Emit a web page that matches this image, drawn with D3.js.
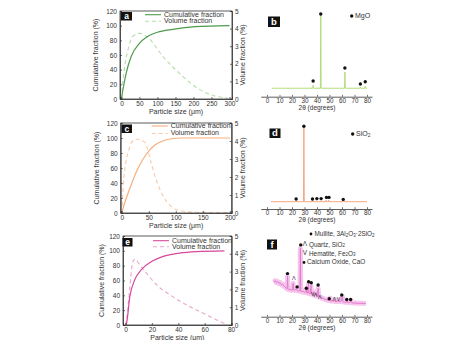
<!DOCTYPE html>
<html><head><meta charset="utf-8">
<script src="https://cdn.jsdelivr.net/npm/d3@7"></script>
<style>body{margin:0;background:#fff} text{font-family:"Liberation Sans",Arial,sans-serif}</style>
</head><body><script>
// ---------- DATA ----------
// Panel a (MgO particle size)
const sizeCumA = [0, 5, 13, 27, 50, 71, 100, 143, 205, 300];
const cumA     = [0, 15, 35, 58, 76, 85, 91, 95, 98.6, 100];
const sizeVolA = [0, 3, 9, 18, 31, 50, 71, 116, 161, 205, 250, 295];
const volA     = [0, 0.8, 1.84, 2.78, 3.54, 3.73, 3.54, 2.4, 1.46, 0.7, 0.23, 0.05];
// Panel c (SiO2 particle size)
const sizeCumC = [0, 4, 16, 31, 46, 62, 77, 92, 110, 200];
const cumC     = [0, 10, 35, 61, 79, 91, 96.4, 99, 100, 100];
const sizeVolC = [0, 4, 13, 22, 31, 44, 53, 62, 71, 83, 101, 130, 200];
const volC     = [0, 2.0, 3.5, 4.05, 4.1, 3.87, 2.94, 2.0, 1.28, 0.63, 0.2, 0.05, 0.02];
// Panel e (fly ash particle size)
const sizeCumE = [0, 0.8, 3.3, 7, 12, 20, 28.6, 41, 54, 75];
const cumE     = [0, 2.7, 38.5, 61, 74.6, 85.8, 92.6, 97, 99, 100];
const sizeVolE = [0, 0.8, 3.3, 5.3, 7, 10.9, 16, 23.6, 33.8, 46.5, 59, 72, 75];
const volE     = [0, 0.3, 2.15, 3.47, 3.7, 3.37, 2.9, 2.25, 1.69, 1.12, 0.66, 0.19, 0.1];
// Axis ticks
const cumTicks = [0, 20, 40, 60, 80, 100, 120];
const volTicks = [0, 1, 2, 3, 4, 5];
const xTicksA = [0, 50, 100, 150, 200, 250, 300];
const xTicksC = [0, 50, 100, 150, 200];
const xTicksE = [0, 20, 40, 60, 80];
const thetaTicks = [0, 10, 20, 30, 40, 50, 60, 70, 80];
// Panel b (MgO XRD)
const angB = [4, 36.6, 36.9, 37.2, 42.7, 43.0, 43.3, 62.0, 62.3, 62.6, 74.4, 74.7, 75.0, 78.3, 78.6, 78.9, 80];
const intB = [1, 1, 5, 1, 1, 96, 1, 1, 22, 1, 1, 2.5, 1, 1, 3.5, 1, 1];
const markAngB = [36.9, 43.0, 62.3, 74.7, 78.6];
const markIntB = [10.4, 97.4, 27.3, 6.5, 9.5];
// Panel d (SiO2 XRD)
const angD = [3, 23.0, 23.3, 23.6, 29.2, 29.5, 29.8, 36.1, 36.4, 36.7, 39.6, 39.9, 40.2, 43.0, 43.3, 43.6, 47.0, 47.3, 47.6, 49.1, 49.4, 49.7, 60.7, 61.0, 61.3, 80];
const intD = [1.6, 1.6, 3, 1.6, 1.6, 97.5, 1.6, 1.6, 3, 1.6, 1.6, 3, 1.6, 1.6, 3, 1.6, 1.6, 3.5, 1.6, 1.6, 3.5, 1.6, 1.6, 3, 1.6, 1.6];
const markAngD = [23.3, 29.5, 36.4, 39.9, 43.3, 47.6, 49.6, 61.0];
const markIntD = [5, 96, 5, 5.5, 5.5, 7, 7, 4.5];
// Panel f (fly ash XRD)
const angF = [5.5, 6.5, 7.5, 8.5, 9.5, 10.5, 11.5, 12.5, 13.5, 14.5, 15.5, 16.1, 16.4, 16.7, 17.5, 18.5, 19.5, 20.5, 20.9, 21.2, 22, 23, 24, 25, 26, 26.4, 26.7, 27, 28, 29, 30, 31, 31.3, 31.6, 32.5, 33.2, 33.5, 34.5, 35.2, 35.5, 36.5, 37, 37.5, 38.5, 39.3, 39.6, 40.5, 40.9, 41.2, 42.5, 43.5, 44.5, 45.5, 46.5, 47.5, 48.5, 49.5, 50.3, 50.6, 52, 53.5, 54, 54.4, 56, 57.3, 57.6, 59, 60.4, 60.7, 62, 63.5, 64.2, 64.5, 66, 67.2, 67.5, 69, 71, 73, 75, 77, 79];
const intF = [40, 42, 39, 41, 38, 39, 36, 37, 34, 33, 31, 30, 48, 31, 29, 30, 28, 29, 38, 29, 28, 30, 28, 27, 28, 27, 88, 27, 26, 27, 25, 26, 30, 25, 24, 37, 24, 23, 35, 23, 22, 26, 21, 21, 25, 20, 20, 31, 19, 19, 17, 17, 16, 15, 15, 14, 14, 17, 13, 13, 13, 15, 12, 12, 14, 12, 12, 19, 12, 11, 11, 13, 11, 10.5, 13, 10.5, 10, 10, 9.5, 9.5, 9.5, 9];
const mulliteAngF = [16.4, 24.1, 27.0, 31.5, 33.3, 35.4, 40.9, 49.8, 59.8, 63.8, 66.9];
const mulliteIntF = [52, 33, 93, 31, 40.4, 39, 35.7, 16, 21.4, 15, 15];
const quartzAngF = [21.4, 38.8, 42.3, 53.8];
const quartzIntF = [45, 20, 18, 15.3];
const hematiteAngF = [36.7, 57.2];
const hematiteIntF = [21.4, 15.3];

// ---------- DRAWING ----------
const svg = d3.select("body").append("svg").attr("width", 474).attr("height", 340);
const TXT = "#333";

function styleAxis(g, fs) {
  g.select(".domain").attr("stroke", TXT).attr("stroke-width", 0.8);
  g.selectAll(".tick line").attr("stroke", TXT).attr("stroke-width", 0.7);
  g.selectAll(".tick text").attr("fill", TXT).style("font-size", fs + "px").style("font-family", "Liberation Sans, Arial, sans-serif");
}

function labelBox(x, y, w, h, letter, fs) {
  svg.append("rect").attr("x", x).attr("y", y).attr("width", w).attr("height", h).attr("fill", "#111");
  svg.append("text").attr("x", x + w / 2).attr("y", y + h / 2 + 0.5).attr("text-anchor", "middle")
    .attr("dominant-baseline", "middle").attr("fill", "#fff").style("font-weight", "bold").style("font-size", fs + "px").text(letter);
}

function linePanel(p) {
  const x = d3.scaleLinear().domain(p.xDomain).range([p.x0, p.x1]);
  const yL = d3.scaleLinear().domain([0, 120]).range([p.y1, p.y0]);
  const yR = d3.scaleLinear().domain([0, 5]).range([p.y1, p.y0]);
  const g = svg.append("g");
  const line = (xs, ys, ysc) => d3.line().x((d, i) => x(xs[i])).y((d, i) => ysc(ys[i])).curve(d3.curveMonotoneX)(xs);
  g.append("path").attr("d", line(p.volX, p.vol, yR)).attr("fill", "none").attr("stroke", p.cDash).attr("stroke-width", 1.1).attr("stroke-dasharray", "4,3");
  g.append("path").attr("d", line(p.cumX, p.cum, yL)).attr("fill", "none").attr("stroke", p.cSolid).attr("stroke-width", 1.2);
  g.append("rect").attr("x", p.x0).attr("y", p.y0).attr("width", p.x1 - p.x0).attr("height", p.y1 - p.y0)
    .attr("fill", "none").attr("stroke", TXT).attr("stroke-width", 0.8);
  styleAxis(g.append("g").attr("transform", `translate(0,${p.y1})`)
    .call(d3.axisBottom(x).tickValues(p.xTicks).tickSize(-2).tickPadding(2.5).tickFormat(d3.format("d"))), 6.5);
  styleAxis(g.append("g").attr("transform", `translate(${p.x0},0)`)
    .call(d3.axisLeft(yL).tickValues(cumTicks).tickSize(-2).tickPadding(3).tickFormat(d3.format("d"))), 6.5);
  styleAxis(g.append("g").attr("transform", `translate(${p.x1},0)`)
    .call(d3.axisRight(yR).tickValues(volTicks).tickSize(-2).tickPadding(3).tickFormat(d3.format("d"))), 6.5);
  const cy = (p.y0 + p.y1) / 2;
  g.append("text").attr("transform", `translate(${p.x0 - p.leftOff},${cy}) rotate(-90)`).attr("text-anchor", "middle")
    .attr("dominant-baseline", "middle").attr("fill", TXT).style("font-size", "7px").text("Cumulative fraction (%)");
  g.append("text").attr("transform", `translate(${p.x1 + 11.5},${cy}) rotate(-90)`).attr("text-anchor", "middle")
    .attr("dominant-baseline", "middle").attr("fill", TXT).style("font-size", "7px").text("Volume fraction (%)");
  g.append("text").attr("x", (p.x0 + p.x1) / 2).attr("y", p.y1 + 13.5).attr("text-anchor", "middle")
    .attr("dominant-baseline", "middle").attr("fill", TXT).style("font-size", "7px").text("Particle size (μm)");
  // legend
  g.append("line").attr("x1", p.lx).attr("x2", p.lx + 16).attr("y1", p.ly1).attr("y2", p.ly1).attr("stroke", p.cSolid).attr("stroke-width", 1.1);
  g.append("line").attr("x1", p.lx).attr("x2", p.lx + 16).attr("y1", p.ly2).attr("y2", p.ly2).attr("stroke", p.cDash).attr("stroke-width", 1.1).attr("stroke-dasharray", "4,3");
  g.append("text").attr("x", p.lx + 19).attr("y", p.ly1).attr("dominant-baseline", "middle").attr("fill", TXT).style("font-size", "7px").text("Cumulative fraction");
  g.append("text").attr("x", p.lx + 19).attr("y", p.ly2).attr("dominant-baseline", "middle").attr("fill", TXT).style("font-size", "7px").text("Volume fraction");
  labelBox(p.bx, p.by, p.bw, p.bh, p.letter, 8.5);
}

linePanel({x0: 120, x1: 232, y0: 11, y1: 99, xDomain: [-4, 307], xTicks: xTicksA,
  cumX: sizeCumA, cum: cumA, volX: sizeVolA, vol: volA, cSolid: "#4e9a4e", cDash: "#b7dcac",
  lx: 145, ly1: 14.7, ly2: 21.3, bx: 121, by: 12, bw: 11, bh: 8.5, letter: "a", leftOff: 23.5});
linePanel({x0: 120.7, x1: 231.7, y0: 123, y1: 213, xDomain: [-2, 203.5], xTicks: xTicksC,
  cumX: sizeCumC, cum: cumC, volX: sizeVolC, vol: volC, cSolid: "#f6ae7c", cDash: "#f8cba8",
  lx: 151.7, ly1: 126, ly2: 133.5, bx: 121.5, by: 124.5, bw: 10.5, bh: 8.5, letter: "c", leftOff: 24});
linePanel({x0: 123, x1: 231.7, y0: 236, y1: 325, xDomain: [-1.9, 80.5], xTicks: xTicksE,
  cumX: sizeCumE, cum: cumE, volX: sizeVolE, vol: volE, cSolid: "#d8489c", cDash: "#eaa6cf",
  lx: 153, ly1: 240.7, ly2: 246.7, bx: 122.5, by: 238, bw: 10, bh: 8.5, letter: "e", leftOff: 20.5});

function xrdPanel(p) {
  const x = d3.scaleLinear().domain([-5, 84]).range([260.75, 372]);
  const y = d3.scaleLinear().domain([0, 100]).range([p.yBase, p.yTop]);
  const g = svg.append("g");
  if (p.band) {
    g.append("path").attr("d", d3.line().x((d, i) => x(p.ang[i])).y((d, i) => y(p.int[i]))(p.ang))
      .attr("fill", "none").attr("stroke", p.band).attr("stroke-width", 5).attr("stroke-linejoin", "round");
  }
  g.append("path").attr("d", d3.line().x((d, i) => x(p.ang[i])).y((d, i) => y(p.int[i]))(p.ang))
    .attr("fill", "none").attr("stroke", p.color).attr("stroke-width", p.sw);
  styleAxis(g.append("g").attr("transform", `translate(0,${p.axisY})`)
    .call(d3.axisBottom(x).tickValues(thetaTicks).tickSizeInner(-1.8).tickSizeOuter(0).tickPadding(2).tickFormat(d3.format("d"))), 6.3);
  g.append("text").attr("x", x(40)).attr("y", p.axisY + 11.7).attr("text-anchor", "middle").attr("dominant-baseline", "middle")
    .attr("fill", TXT).style("font-size", "6.5px").text("2θ (degrees)");
  p.marks.forEach(m => {
    if (m.type === "dot") {
      m.a.forEach((a, i) => g.append("circle").attr("cx", x(a)).attr("cy", y(m.v[i])).attr("r", 1.7).attr("fill", "#111"));
    } else {
      m.a.forEach((a, i) => g.append("text").attr("x", x(a)).attr("y", y(m.v[i])).attr("text-anchor", "middle")
        .attr("dominant-baseline", "middle").attr("fill", TXT).style("font-size", "5.5px").text(m.type));
    }
  });
  labelBox(p.bx, p.by, p.bw, p.bh, p.letter, 9.5);
}

xrdPanel({ang: angB, int: intB, color: "#b3dc7a", sw: 1, yBase: 89, yTop: 12, axisY: 96.7,
  marks: [{type: "dot", a: markAngB, v: markIntB}], bx: 268, by: 16.5, bw: 12, bh: 10.5, letter: "b"});
xrdPanel({ang: angD, int: intD, color: "#f4a784", sw: 1, yBase: 203, yTop: 123, axisY: 209,
  marks: [{type: "dot", a: markAngD, v: markIntD}], bx: 269.5, by: 128.5, bw: 11, bh: 9.5, letter: "d"});
xrdPanel({ang: angF, int: intF, color: "#e27ccc", band: "#f6c6ec", sw: 1, yBase: 310, yTop: 240, axisY: 316.7,
  marks: [{type: "dot", a: mulliteAngF, v: mulliteIntF}, {type: "Λ", a: quartzAngF, v: quartzIntF}, {type: "V", a: hematiteAngF, v: hematiteIntF}],
  bx: 267, by: 239.5, bw: 10, bh: 10, letter: "f"});

// XRD legends
function sub(t, parts, fs) {
  parts.forEach(pt => {
    if (pt.s) t.append("tspan").attr("dy", fs * 0.25).style("font-size", (fs * 0.7) + "px").text(pt.s);
    else t.append("tspan").attr("dy", pt.back ? -fs * 0.25 : 0).text(pt.t);
  });
}
svg.append("circle").attr("cx", 351.7).attr("cy", 16).attr("r", 1.7).attr("fill", "#111");
svg.append("text").attr("x", 355).attr("y", 16).attr("dominant-baseline", "middle").attr("fill", TXT).style("font-size", "7px").text("MgO");
svg.append("circle").attr("cx", 352.7).attr("cy", 134).attr("r", 1.7).attr("fill", "#111");
sub(svg.append("text").attr("x", 356).attr("y", 134).attr("dominant-baseline", "middle").attr("fill", TXT).style("font-size", "7px"),
  [{t: "SiO"}, {s: "2"}], 7);

const fsL = 6.4;
svg.append("circle").attr("cx", 311).attr("cy", 234).attr("r", 1.4).attr("fill", "#111");
sub(svg.append("text").attr("x", 314.5).attr("y", 234).attr("dominant-baseline", "middle").attr("fill", TXT).style("font-size", fsL + "px"),
  [{t: "Mullite, 3Al"}, {s: "2"}, {t: "O", back: true}, {s: "3"}, {t: "·2SiO", back: true}, {s: "2"}], fsL);
svg.append("text").attr("x", 305).attr("y", 244.5).attr("text-anchor", "middle").attr("dominant-baseline", "middle").attr("fill", TXT).style("font-size", fsL + "px").text("Λ");
sub(svg.append("text").attr("x", 309).attr("y", 244.5).attr("dominant-baseline", "middle").attr("fill", TXT).style("font-size", fsL + "px"),
  [{t: "Quartz, SiO"}, {s: "2"}], fsL);
svg.append("text").attr("x", 305).attr("y", 253.5).attr("text-anchor", "middle").attr("dominant-baseline", "middle").attr("fill", TXT).style("font-size", fsL + "px").text("V");
sub(svg.append("text").attr("x", 309).attr("y", 253.5).attr("dominant-baseline", "middle").attr("fill", TXT).style("font-size", fsL + "px"),
  [{t: "Hematite, Fe"}, {s: "2"}, {t: "O", back: true}, {s: "3"}], fsL);
svg.append("circle").attr("cx", 304).attr("cy", 262.5).attr("r", 1.4).attr("fill", "#111");
svg.append("text").attr("x", 307).attr("y", 262.5).attr("dominant-baseline", "middle").attr("fill", TXT).style("font-size", fsL + "px").text("Calcium Oxide, CaO");
</script></body></html>
